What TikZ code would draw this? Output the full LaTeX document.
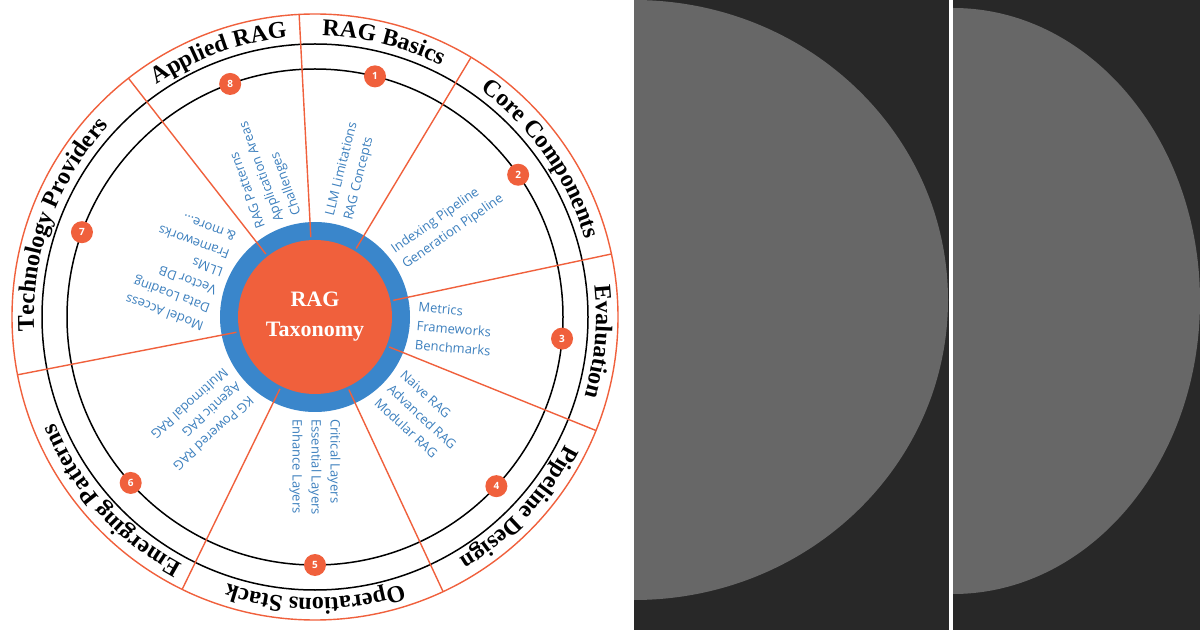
\documentclass[tikz,border=0pt]{standalone}
\usepackage{fontspec}
\setmainfont{Liberation Serif}
\setsansfont{Open Sans}
\usetikzlibrary{decorations.text}
\definecolor{ragorange}{HTML}{F0603C}
\definecolor{ragblue}{HTML}{3A86CB}
\definecolor{itemblue}{HTML}{3D80BE}
\definecolor{panel}{HTML}{282828}
\definecolor{disc}{HTML}{676767}
\newcommand{\ringfont}{\fontsize{24}{24}\selectfont\bfseries}
\begin{document}
\begin{tikzpicture}[x=1pt, y=1pt, divider/.style = {ragorange, line width = 1.4pt}, ring/.style = {black, line width = 1.5pt}, item/.style = {text = itemblue, font = \sffamily\fontsize{13}{19}\selectfont, align = left, anchor = west, inner sep = 0pt}, badge/.style = {circle, fill = ragorange, text = white, minimum size = 22pt, inner sep = 0pt, font = \sffamily\bfseries\fontsize{10}{10}\selectfont}]
\useasboundingbox (0,0) rectangle (1200,630);
\fill[white] (0,0) rectangle (634,630);
% right panels
\fill[panel] (634,0) rectangle (949,630);
\fill[panel] (953,0) rectangle (1200,630);
\fill[disc] (634,630) arc[start angle = 90, end angle = -90, x radius = 314, y radius = 300] -- cycle;
\fill[disc] (953,622) arc[start angle = 90, end angle = -90, x radius = 247, y radius = 293] -- cycle;

\begin{scope}[shift = {(315,313)}]
\draw[divider] (0,0) circle[radius = 303];
\draw[ring] (0,0) circle[radius = 273];
\draw[ring] (0,0) circle[radius = 248];
\fill[ragblue] (0,0) circle[radius = 95];
\foreach \a in {93, 59, 12, -22, -65, -116, -169, 128}
  \draw[divider] (\a:80) -- (\a:303);
\node[circle, fill = ragorange, minimum size = 154pt, inner sep = 0pt, text = white, align = center, font = \bfseries\fontsize{22}{30}\selectfont] (core) at (0,0) {RAG\\Taxonomy};

\foreach \m/\n/\lbl/\items in {
  76/1/RAG Basics/{LLM Limitations\\RAG Concepts},
  35/2/Core Components/{Indexing Pipeline\\Generation Pipeline},
  -5/3/Evaluation/{Metrics\\Frameworks\\Benchmarks},
  -43/4/Pipeline Design/{Naive RAG\\Advanced RAG\\Modular RAG},
  -90/5/Operations Stack/{Critical Layers\\Essential Layers\\Enhance Layers},
  -138/6/Emerging Patterns/{KG Powered RAG\\Agentic RAG\\Multimodal RAG},
  160/7/Technology Providers/{Model Access\\Data Loading\\Vector DB\\LLMs\\Frameworks\\\& more...},
  110/8/Applied RAG/{RAG Patterns\\Application Areas\\Challenges}} {
  \node[item, rotate = \m] (s\n) at (\m:102) {\items};
  \node[badge] (b\n) at (\m:248) {\n};
  \path[decorate, decoration = {text along path, text align = center, text = {|\ringfont|\lbl}}]
    (\m+40:281) arc[start angle = \m+40, end angle = \m-40, radius = 281];
}
\end{scope}
\end{tikzpicture}
\end{document}
